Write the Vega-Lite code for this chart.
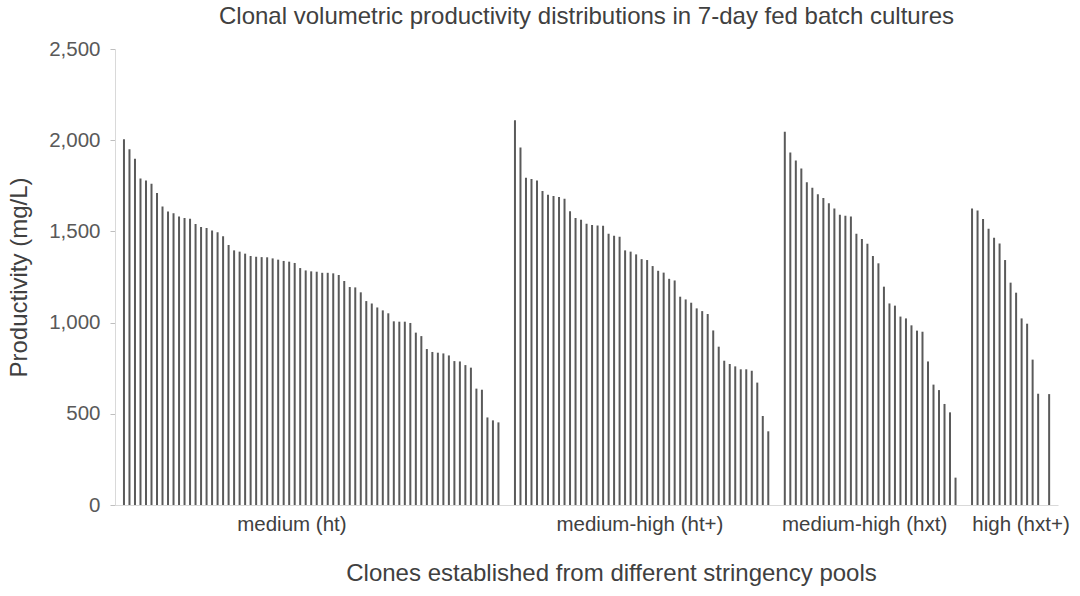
{
  "$schema": "https://vega.github.io/schema/vega-lite/v6.json",
  "autosize": "none",
  "width": 943,
  "height": 456,
  "padding": {"left": 115, "top": 49, "right": 22, "bottom": 91},
  "background": "white",
  "config": {
    "font": "Liberation Sans",
    "view": {"stroke": null}
  },
  "title": {
    "text": "Clonal volumetric productivity distributions in 7-day fed batch cultures",
    "fontSize": 24,
    "fontWeight": "normal",
    "color": "#404040",
    "anchor": "middle",
    "frame": "group",
    "offset": 10
  },
  "data": {
    "values": [
      {"slot": 1, "pool": "medium (ht)", "value": 2005},
      {"slot": 2, "pool": "medium (ht)", "value": 1951},
      {"slot": 3, "pool": "medium (ht)", "value": 1898},
      {"slot": 4, "pool": "medium (ht)", "value": 1790},
      {"slot": 5, "pool": "medium (ht)", "value": 1779},
      {"slot": 6, "pool": "medium (ht)", "value": 1761},
      {"slot": 7, "pool": "medium (ht)", "value": 1710},
      {"slot": 8, "pool": "medium (ht)", "value": 1637},
      {"slot": 9, "pool": "medium (ht)", "value": 1609},
      {"slot": 10, "pool": "medium (ht)", "value": 1600},
      {"slot": 11, "pool": "medium (ht)", "value": 1582},
      {"slot": 12, "pool": "medium (ht)", "value": 1573},
      {"slot": 13, "pool": "medium (ht)", "value": 1569},
      {"slot": 14, "pool": "medium (ht)", "value": 1540},
      {"slot": 15, "pool": "medium (ht)", "value": 1524},
      {"slot": 16, "pool": "medium (ht)", "value": 1518},
      {"slot": 17, "pool": "medium (ht)", "value": 1505},
      {"slot": 18, "pool": "medium (ht)", "value": 1496},
      {"slot": 19, "pool": "medium (ht)", "value": 1473},
      {"slot": 20, "pool": "medium (ht)", "value": 1425},
      {"slot": 21, "pool": "medium (ht)", "value": 1396},
      {"slot": 22, "pool": "medium (ht)", "value": 1389},
      {"slot": 23, "pool": "medium (ht)", "value": 1378},
      {"slot": 24, "pool": "medium (ht)", "value": 1365},
      {"slot": 25, "pool": "medium (ht)", "value": 1361},
      {"slot": 26, "pool": "medium (ht)", "value": 1359},
      {"slot": 27, "pool": "medium (ht)", "value": 1358},
      {"slot": 28, "pool": "medium (ht)", "value": 1352},
      {"slot": 29, "pool": "medium (ht)", "value": 1345},
      {"slot": 30, "pool": "medium (ht)", "value": 1338},
      {"slot": 31, "pool": "medium (ht)", "value": 1334},
      {"slot": 32, "pool": "medium (ht)", "value": 1327},
      {"slot": 33, "pool": "medium (ht)", "value": 1299},
      {"slot": 34, "pool": "medium (ht)", "value": 1286},
      {"slot": 35, "pool": "medium (ht)", "value": 1281},
      {"slot": 36, "pool": "medium (ht)", "value": 1279},
      {"slot": 37, "pool": "medium (ht)", "value": 1273},
      {"slot": 38, "pool": "medium (ht)", "value": 1273},
      {"slot": 39, "pool": "medium (ht)", "value": 1270},
      {"slot": 40, "pool": "medium (ht)", "value": 1261},
      {"slot": 41, "pool": "medium (ht)", "value": 1228},
      {"slot": 42, "pool": "medium (ht)", "value": 1195},
      {"slot": 43, "pool": "medium (ht)", "value": 1193},
      {"slot": 44, "pool": "medium (ht)", "value": 1166},
      {"slot": 45, "pool": "medium (ht)", "value": 1118},
      {"slot": 46, "pool": "medium (ht)", "value": 1105},
      {"slot": 47, "pool": "medium (ht)", "value": 1083},
      {"slot": 48, "pool": "medium (ht)", "value": 1067},
      {"slot": 49, "pool": "medium (ht)", "value": 1051},
      {"slot": 50, "pool": "medium (ht)", "value": 1007},
      {"slot": 51, "pool": "medium (ht)", "value": 1005},
      {"slot": 52, "pool": "medium (ht)", "value": 1005},
      {"slot": 53, "pool": "medium (ht)", "value": 998},
      {"slot": 54, "pool": "medium (ht)", "value": 945},
      {"slot": 55, "pool": "medium (ht)", "value": 926},
      {"slot": 56, "pool": "medium (ht)", "value": 855},
      {"slot": 57, "pool": "medium (ht)", "value": 839},
      {"slot": 58, "pool": "medium (ht)", "value": 835},
      {"slot": 59, "pool": "medium (ht)", "value": 831},
      {"slot": 60, "pool": "medium (ht)", "value": 820},
      {"slot": 61, "pool": "medium (ht)", "value": 789},
      {"slot": 62, "pool": "medium (ht)", "value": 787},
      {"slot": 63, "pool": "medium (ht)", "value": 767},
      {"slot": 64, "pool": "medium (ht)", "value": 753},
      {"slot": 65, "pool": "medium (ht)", "value": 638},
      {"slot": 66, "pool": "medium (ht)", "value": 632},
      {"slot": 67, "pool": "medium (ht)", "value": 480},
      {"slot": 68, "pool": "medium (ht)", "value": 464},
      {"slot": 69, "pool": "medium (ht)", "value": 453},
      {"slot": 72, "pool": "medium-high (ht+)", "value": 2110},
      {"slot": 73, "pool": "medium-high (ht+)", "value": 1960},
      {"slot": 74, "pool": "medium-high (ht+)", "value": 1794},
      {"slot": 75, "pool": "medium-high (ht+)", "value": 1787},
      {"slot": 76, "pool": "medium-high (ht+)", "value": 1779},
      {"slot": 77, "pool": "medium-high (ht+)", "value": 1721},
      {"slot": 78, "pool": "medium-high (ht+)", "value": 1701},
      {"slot": 79, "pool": "medium-high (ht+)", "value": 1694},
      {"slot": 80, "pool": "medium-high (ht+)", "value": 1688},
      {"slot": 81, "pool": "medium-high (ht+)", "value": 1679},
      {"slot": 82, "pool": "medium-high (ht+)", "value": 1610},
      {"slot": 83, "pool": "medium-high (ht+)", "value": 1573},
      {"slot": 84, "pool": "medium-high (ht+)", "value": 1564},
      {"slot": 85, "pool": "medium-high (ht+)", "value": 1542},
      {"slot": 86, "pool": "medium-high (ht+)", "value": 1535},
      {"slot": 87, "pool": "medium-high (ht+)", "value": 1533},
      {"slot": 88, "pool": "medium-high (ht+)", "value": 1531},
      {"slot": 89, "pool": "medium-high (ht+)", "value": 1487},
      {"slot": 90, "pool": "medium-high (ht+)", "value": 1476},
      {"slot": 91, "pool": "medium-high (ht+)", "value": 1471},
      {"slot": 92, "pool": "medium-high (ht+)", "value": 1396},
      {"slot": 93, "pool": "medium-high (ht+)", "value": 1389},
      {"slot": 94, "pool": "medium-high (ht+)", "value": 1374},
      {"slot": 95, "pool": "medium-high (ht+)", "value": 1348},
      {"slot": 96, "pool": "medium-high (ht+)", "value": 1343},
      {"slot": 97, "pool": "medium-high (ht+)", "value": 1310},
      {"slot": 98, "pool": "medium-high (ht+)", "value": 1284},
      {"slot": 99, "pool": "medium-high (ht+)", "value": 1274},
      {"slot": 100, "pool": "medium-high (ht+)", "value": 1240},
      {"slot": 101, "pool": "medium-high (ht+)", "value": 1231},
      {"slot": 102, "pool": "medium-high (ht+)", "value": 1142},
      {"slot": 103, "pool": "medium-high (ht+)", "value": 1127},
      {"slot": 104, "pool": "medium-high (ht+)", "value": 1109},
      {"slot": 105, "pool": "medium-high (ht+)", "value": 1078},
      {"slot": 106, "pool": "medium-high (ht+)", "value": 1063},
      {"slot": 107, "pool": "medium-high (ht+)", "value": 1047},
      {"slot": 108, "pool": "medium-high (ht+)", "value": 957},
      {"slot": 109, "pool": "medium-high (ht+)", "value": 868},
      {"slot": 110, "pool": "medium-high (ht+)", "value": 791},
      {"slot": 111, "pool": "medium-high (ht+)", "value": 773},
      {"slot": 112, "pool": "medium-high (ht+)", "value": 760},
      {"slot": 113, "pool": "medium-high (ht+)", "value": 744},
      {"slot": 114, "pool": "medium-high (ht+)", "value": 744},
      {"slot": 115, "pool": "medium-high (ht+)", "value": 736},
      {"slot": 116, "pool": "medium-high (ht+)", "value": 671},
      {"slot": 117, "pool": "medium-high (ht+)", "value": 488},
      {"slot": 118, "pool": "medium-high (ht+)", "value": 404},
      {"slot": 121, "pool": "medium-high (hxt)", "value": 2046},
      {"slot": 122, "pool": "medium-high (hxt)", "value": 1933},
      {"slot": 123, "pool": "medium-high (hxt)", "value": 1889},
      {"slot": 124, "pool": "medium-high (hxt)", "value": 1845},
      {"slot": 125, "pool": "medium-high (hxt)", "value": 1769},
      {"slot": 126, "pool": "medium-high (hxt)", "value": 1739},
      {"slot": 127, "pool": "medium-high (hxt)", "value": 1703},
      {"slot": 128, "pool": "medium-high (hxt)", "value": 1683},
      {"slot": 129, "pool": "medium-high (hxt)", "value": 1654},
      {"slot": 130, "pool": "medium-high (hxt)", "value": 1626},
      {"slot": 131, "pool": "medium-high (hxt)", "value": 1591},
      {"slot": 132, "pool": "medium-high (hxt)", "value": 1586},
      {"slot": 133, "pool": "medium-high (hxt)", "value": 1582},
      {"slot": 134, "pool": "medium-high (hxt)", "value": 1487},
      {"slot": 135, "pool": "medium-high (hxt)", "value": 1458},
      {"slot": 136, "pool": "medium-high (hxt)", "value": 1432},
      {"slot": 137, "pool": "medium-high (hxt)", "value": 1365},
      {"slot": 138, "pool": "medium-high (hxt)", "value": 1325},
      {"slot": 139, "pool": "medium-high (hxt)", "value": 1197},
      {"slot": 140, "pool": "medium-high (hxt)", "value": 1105},
      {"slot": 141, "pool": "medium-high (hxt)", "value": 1093},
      {"slot": 142, "pool": "medium-high (hxt)", "value": 1033},
      {"slot": 143, "pool": "medium-high (hxt)", "value": 1023},
      {"slot": 144, "pool": "medium-high (hxt)", "value": 985},
      {"slot": 145, "pool": "medium-high (hxt)", "value": 956},
      {"slot": 146, "pool": "medium-high (hxt)", "value": 950},
      {"slot": 147, "pool": "medium-high (hxt)", "value": 787},
      {"slot": 148, "pool": "medium-high (hxt)", "value": 660},
      {"slot": 149, "pool": "medium-high (hxt)", "value": 630},
      {"slot": 150, "pool": "medium-high (hxt)", "value": 554},
      {"slot": 151, "pool": "medium-high (hxt)", "value": 508},
      {"slot": 152, "pool": "medium-high (hxt)", "value": 150},
      {"slot": 155, "pool": "high (hxt+)", "value": 1626},
      {"slot": 156, "pool": "high (hxt+)", "value": 1615},
      {"slot": 157, "pool": "high (hxt+)", "value": 1568},
      {"slot": 158, "pool": "high (hxt+)", "value": 1515},
      {"slot": 159, "pool": "high (hxt+)", "value": 1465},
      {"slot": 160, "pool": "high (hxt+)", "value": 1434},
      {"slot": 161, "pool": "high (hxt+)", "value": 1343},
      {"slot": 162, "pool": "high (hxt+)", "value": 1219},
      {"slot": 163, "pool": "high (hxt+)", "value": 1164},
      {"slot": 164, "pool": "high (hxt+)", "value": 1023},
      {"slot": 165, "pool": "high (hxt+)", "value": 994},
      {"slot": 166, "pool": "high (hxt+)", "value": 797},
      {"slot": 167, "pool": "high (hxt+)", "value": 610},
      {"slot": 169, "pool": "high (hxt+)", "value": 608}
    ]
  },
  "mark": {"type": "bar", "color": "#5a5a5a", "size": 2},
  "encoding": {
    "x": {
      "field": "slot",
      "type": "quantitative",
      "scale": {"domain": [0.28, 169.7], "nice": false, "zero": false},
      "axis": {
        "title": "Clones established from different stringency pools",
        "titleFontSize": 24,
        "titleFontWeight": "normal",
        "titleColor": "#404040",
        "titlePadding": 27,
        "titleX": 496,
        "grid": false,
        "ticks": false,
        "tickSize": 0,
        "domainColor": "#d9d9d9",
        "values": [31.4, 94.6, 135.4, 163.8],
        "labelExpr": "datum.value < 60 ? 'medium (ht)' : datum.value < 110 ? 'medium-high (ht+)' : datum.value < 150 ? 'medium-high (hxt)' : 'high (hxt+)'",
        "labelFontSize": 20.5,
        "labelColor": "#404040",
        "labelPadding": 9,
        "labelOverlap": false,
        "labelFlush": false
      }
    },
    "y": {
      "field": "value",
      "type": "quantitative",
      "scale": {"domain": [0, 2500], "nice": false},
      "axis": {
        "title": "Productivity (mg/L)",
        "titleFontSize": 24,
        "titleFontWeight": "normal",
        "titleColor": "#404040",
        "titlePadding": 17,
        "values": [0, 500, 1000, 1500, 2000, 2500],
        "format": ",.0f",
        "grid": false,
        "domainColor": "#d9d9d9",
        "tickColor": "#bfbfbf",
        "tickSize": 5,
        "labelFontSize": 20.5,
        "labelColor": "#595959",
        "labelPadding": 10
      }
    }
  }
}
